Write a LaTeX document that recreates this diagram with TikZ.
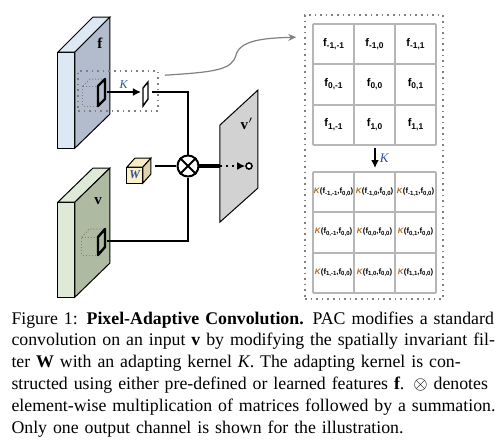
\documentclass[tikz,border=0pt]{standalone}
\usepackage{fontspec}
\setmainfont{Liberation Serif}
\newfontfamily\gridfont{Liberation Sans}
\usetikzlibrary{arrows.meta}

\definecolor{fFront}{RGB}{221,232,245}
\definecolor{fSide}{RGB}{178,188,205}
\definecolor{vFront}{RGB}{222,234,214}
\definecolor{vSide}{RGB}{174,187,162}
\definecolor{vOut}{RGB}{210,210,210}
\definecolor{wFront}{RGB}{253,239,200}
\definecolor{wSide}{RGB}{224,210,170}
\definecolor{kBlue}{RGB}{45,80,160}
\definecolor{kOrange}{RGB}{175,105,30}
\definecolor{gridGray}{RGB}{182,182,182}

\newcommand{\fv}[1]{\textbf{f}\raisebox{-0.45ex}{\fontsize{4.2}{4}\selectfont\textbf{#1}}}
\newcommand{\kv}[1]{\textcolor{kOrange}{\textit{K}}(\textbf{f}\raisebox{-0.45ex}{\fontsize{3}{3}\selectfont\textbf{#1}},\textbf{f}\raisebox{-0.45ex}{\fontsize{3}{3}\selectfont\textbf{0,0}})}

\tikzset{every picture/.style={line width=0.5pt}}
\tikzset{
  dotbox/.style={draw=gray, dotted, line width=0.8pt, inner sep=0pt},
  patch/.style={draw=black, line width=1.2pt, line join=round},
  wire/.style={draw=black, line width=1pt},
  cell/.style={draw=gridGray, line width=1pt},
  ghost/.style={draw=gray, densely dotted, line width=0.5pt},
}

\begin{document}
\begin{tikzpicture}[x=0.5pt,y=0.5pt,yscale=-1,xscale=1]
\useasboundingbox (0,0) rectangle (495,447);

% guide features f
\draw [fill=fFront] (58,52) -- (75,52) -- (75,148) -- (58,148) -- cycle ;
\draw [fill=fFront] (58,52) -- (93,17) -- (110,17) -- (75,52) -- cycle ;
\draw [fill=fSide] (75,52) -- (110,17) -- (110,114) -- (75,148) -- cycle ;
\draw (100,43) node (flabel) [inner sep=0.75pt] {\fontsize{7.5}{8}\selectfont\textbf{f}};
\draw [ghost] (83,86) -- (98,86) -- (98,106) -- (83,106) -- cycle ;
\draw [ghost] (83,86) -- (90,79) -- (105,79) ;
\draw [patch, fill=fSide] (98,86) -- (105,79) -- (105,99) -- (98,106) -- cycle ;

% input v
\draw [fill=vFront] (58,202) -- (75,202) -- (75,297) -- (58,297) -- cycle ;
\draw [fill=vFront] (58,202) -- (93,168) -- (110,168) -- (75,202) -- cycle ;
\draw [fill=vSide] (75,202) -- (110,168) -- (110,263) -- (75,297) -- cycle ;
\draw (98,201) node (vlabel) [inner sep=0.75pt] {\fontsize{7.5}{8}\selectfont\textbf{v}};
\draw [ghost] (82,237) -- (98,237) -- (98,255) -- (82,255) -- cycle ;
\draw [ghost] (82,237) -- (89,229) -- (105,229) ;
\draw [patch, fill=vSide] (98,237) -- (105,229) -- (105,247) -- (98,255) -- cycle ;

% adapted kernel patch
\node (roi) [dotbox, minimum width=40pt, minimum height=20pt] at (118,91) {};
\draw [fill=white, line width=0.7pt] (143,88) -- (148,82) -- (148,99) -- (143,106) -- cycle ;
\coordinate (fout) at (107,92) ;
\coordinate (kin) at (141,92) ;
\coordinate (kout) at (152,92) ;
\coordinate (vout) at (107,241) ;
\draw [wire, -{Latex[length=4pt,width=4pt]}] (fout) -- (kin) node [midway, above, inner sep=1.5pt] (klabel) {\fontsize{6}{6}\selectfont\textcolor{kBlue}{\textit{K}}};

% filter W
\draw [fill=wFront] (127,167) -- (143,167) -- (143,183) -- (127,183) -- cycle ;
\draw [fill=wFront!85!wSide] (127,167) -- (135,158) -- (151,158) -- (143,167) -- cycle ;
\draw [fill=wSide] (143,167) -- (151,158) -- (151,174) -- (143,183) -- cycle ;
\draw (135,175) node (wlabel) [inner sep=0.75pt] {\fontsize{6}{6}\selectfont\textcolor{kBlue}{\textbf{\textit{W}}}};
\coordinate (wout) at (155,166) ;

% multiply and sum
\node (mult) [circle, draw, line width=1pt, minimum size=10.5pt, inner sep=0pt] at (188,166) {};
\draw [line width=1pt] (mult.north west) -- (mult.south east) (mult.north east) -- (mult.south west) ;
\draw [wire] (kout) -| (mult.north) ;
\draw [wire] (vout) -| (mult.south) ;
\draw [wire] (wout) -- (mult.west) ;

% output v'
\draw [fill=vOut] (220,125) -- (258,90) -- (258,188) -- (220,222) -- cycle ;
\draw (247,124) node (vplabel) [inner sep=0.75pt] {\fontsize{7.5}{8}\selectfont$\mathbf{v}'$};
\coordinate (vin) at (220,166) ;
\node (odot) [circle, draw, line width=0.8pt, fill=white, minimum size=3pt, inner sep=0pt] at (249,166) {};
\draw [line width=1.6pt] (mult.east) -- (vin) ;
\draw [line width=1pt, dotted, -{Latex[length=4pt,width=4pt]}] (vin) -- (odot.west) ;

% zoomed-in view
\node (panel) [dotbox, minimum width=69pt, minimum height=142pt] at (374,157) {};
\draw [gray, line width=0.6pt, -{Stealth[length=4pt,width=3.5pt]}] ([xshift=3pt,yshift=2.5pt]roi.north east) .. controls (215,72) and (232,70) .. (236,55) .. controls (240,40) and (265,38) .. ([xshift=-4pt,yshift=11.5pt]panel.north west) ;

\foreach \k in {0,...,3} {
  \draw [cell] ({313+41*\k},24) -- ({313+41*\k},145) ;
  \draw [cell] (313,{24+40.33*\k}) -- (436,{24+40.33*\k}) ;
  \draw [cell] ({313+41*\k},172) -- ({313+41*\k},293) ;
  \draw [cell] (313,{172+40.33*\k}) -- (436,{172+40.33*\k}) ;
}
\foreach \r [count=\j from 0] in {-1,0,1} {
  \foreach \c [count=\i from 0] in {-1,0,1} {
    \node (top\i\j) [inner sep=0pt] at ({333.5+41*\i},{44+40.33*\j}) {\gridfont\fontsize{5.5}{6}\selectfont\fv{\r,\c}};
    \node (bot\i\j) [inner sep=0pt] at ({333.5+41*\i},{192+40.33*\j}) {\gridfont\bfseries\fontsize{3.9}{4}\selectfont\kv{\r,\c}};
  }
}
\coordinate (tgrid) at (375,148) ;
\coordinate (bgrid) at (375,168) ;
\draw [wire, -{Latex[length=4pt,width=4pt]}] (tgrid) -- (bgrid) node [midway, right, inner sep=2pt] (kdown) {\fontsize{6.5}{6}\selectfont\textcolor{kBlue}{\textit{K}}};

% caption
\node (caption) [anchor=north west, inner sep=0pt, text width=235.5pt, font=\fontsize{8.9}{10.9}\selectfont] at (11,311) {%
\makebox[\linewidth][s]{Figure 1: \textbf{Pixel-Adaptive Convolution.} PAC modifies a standard}\\
\makebox[\linewidth][s]{convolution on an input \textbf{v} by modifying the spatially invariant fil-}\\
\makebox[\linewidth][s]{ter \textbf{W} with an adapting kernel \textit{K}. The adapting kernel is con-}\\
\makebox[\linewidth][s]{structed using either pre-defined or learned features \textbf{f}. $\otimes$ denotes}\\
\makebox[\linewidth][s]{element-wise multiplication of matrices followed by a summation.}\\
Only one output channel is shown for the illustration.};

\end{tikzpicture}
\end{document}
